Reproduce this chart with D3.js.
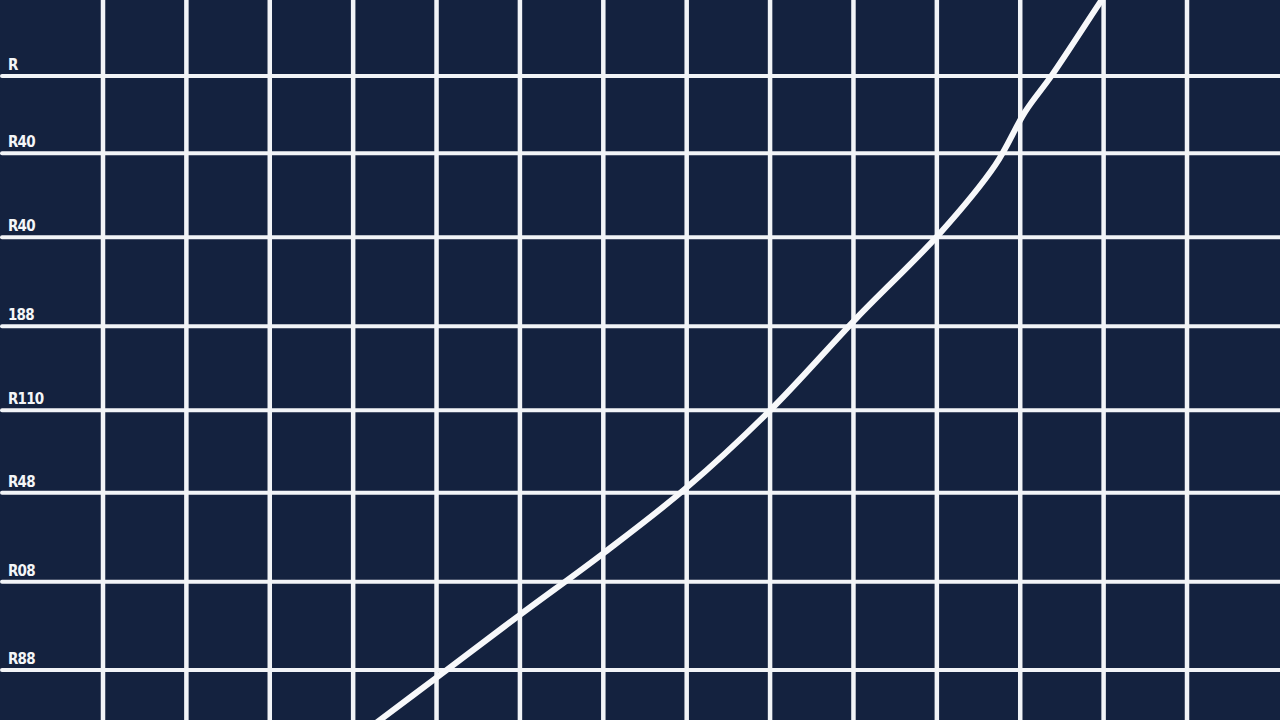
<!DOCTYPE html>
<html>
<head>
<meta charset="utf-8">
<script src="https://cdn.jsdelivr.net/npm/d3@7"></script>
<style>
  html, body { margin: 0; padding: 0; background: #14223f; overflow: hidden; }
  svg { display: block; }
</style>
</head>
<body>
<div id="chart"></div>
<script>
"use strict"

// grid columns (x units) and rows (y units)
const xTicks = [0, 1, 2, 3, 4, 5, 6, 7, 8, 9, 10, 11, 12, 13];
const yTicks = [0, 1.04, 2.09, 3.06, 4.05, 5.1, 6.09, 7];
// tick labels, bottom to top
const yLabels = ["R88", "R08", "R48", "R110", "188", "R40", "R40", "R"];

// curve
const curveX = [3.24, 4.04, 5.0, 6.02, 7.0, 8.0, 9.04, 10.04, 10.7, 11.06, 11.38, 11.98, 12.08];
const curveY = [-0.65, -0.06, 0.65, 1.39, 2.15, 3.06, 4.15, 5.15, 5.95, 6.58, 7.01, 7.9, 8.04];

const W = 1280, H = 720;

let x = d3.scaleLinear().domain([0, 13]).range([103, 1187]);
let y = d3.scaleLinear().domain([0, 7]).range([670, 76]);

let svg = (
  d3.select('#chart')
    .append('svg')
    .attr('width', W)
    .attr('height', H));

svg.append('rect')
  .attr('width', W)
  .attr('height', H)
  .attr('fill', '#14223f');

svg.append('clipPath')
  .attr('id', 'clip')
  .append('rect')
    .attr('width', W)
    .attr('height', H);

// Draw vertical grid lines
(svg
  .selectAll('line.v')
    .data(xTicks)
  .enter()
    .append('line')
      .attr('class', 'v')
      .attr('x1', (d) => x(d))
      .attr('x2', (d) => x(d))
      .attr('y1', 0)
      .attr('y2', H)
      .attr('stroke', '#f2f4f7')
      .attr('stroke-width', 4.5)
);

// Draw horizontal grid lines
(svg
  .selectAll('line.h')
    .data(yTicks)
  .enter()
    .append('line')
      .attr('class', 'h')
      .attr('x1', 2)
      .attr('x2', W)
      .attr('y1', (d) => y(d))
      .attr('y2', (d) => y(d))
      .attr('stroke', '#f2f4f7')
      .attr('stroke-width', 4)
      .attr('stroke-linecap', 'round')
);

// Draw tick labels
(svg
  .selectAll('text.lbl')
    .data(yTicks)
  .enter()
    .append('text')
      .attr('class', 'lbl')
      .attr('x', 8)
      .attr('y', (d) => y(d) - 6)
      .attr('fill', '#f4f6f8')
      .attr('style', 'font: bold 15px "DejaVu Sans Condensed", "DejaVu Sans", sans-serif; letter-spacing: -0.8px')
      .text((d, i) => yLabels[i])
);

// Draw curve
let pts = curveX.map((v, i) => [v, curveY[i]]);
let line = d3.line()
  .x((d) => x(d[0]))
  .y((d) => y(d[1]))
  .curve(d3.curveCatmullRom.alpha(0.5));

svg.append('path')
  .attr('clip-path', 'url(#clip)')
  .attr('d', line(pts))
  .attr('fill', 'none')
  .attr('stroke', '#f7f8fa')
  .attr('stroke-width', 6)
  .attr('stroke-linecap', 'round');
</script>
</body>
</html>
